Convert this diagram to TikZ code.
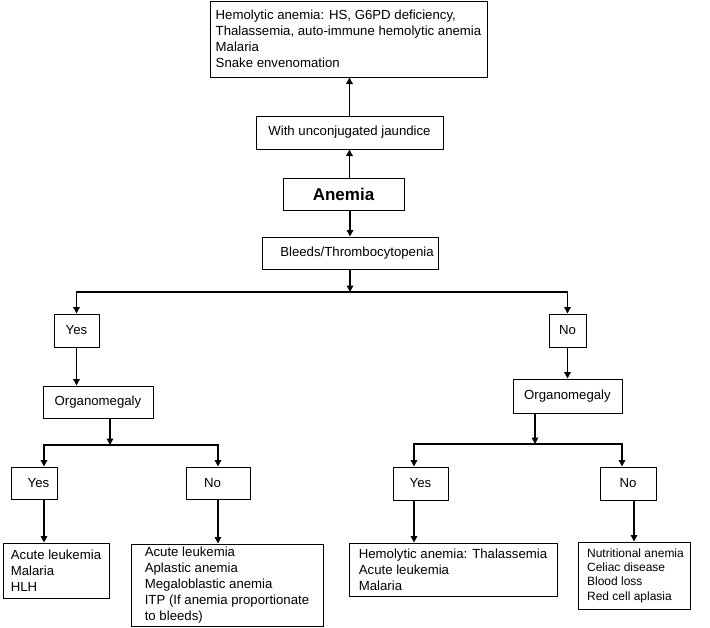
\documentclass[tikz,border=0pt]{standalone}
\usepackage{fontspec}
\setmainfont{Liberation Sans}
\usetikzlibrary{arrows.meta}
\tikzset{
	box/.style={draw, line width=1pt, inner sep=0pt, align=left, font=\fontsize{13.2}{16}\selectfont},
	smallbox/.style={box, font=\fontsize{12}{14.3}\selectfont},
	link/.style={line width=1.4pt, -{Triangle[length=6.5pt,width=6.5pt]}}
}

\begin{document}
\begin{tikzpicture}[x=1pt, y=-1pt]
		%%%%% START %%%%%
		\useasboundingbox (0, 0) rectangle (710, 627);
		
		\node[box, minimum width=277pt, minimum height=76pt] (hemol) at (348.5, 39) {Hemolytic anemia: HS, G6PD deficiency,\\Thalassemia, auto-immune hemolytic anemia\\Malaria\\Snake envenomation};
		\node[box, minimum width=187pt, minimum height=33pt] (jaund) at (349.5, 132.5) {With unconjugated jaundice};
		\node[box, minimum width=121pt, minimum height=32pt, font=\fontsize{17}{20}\selectfont\bfseries] (anemia) at (343.5, 194) {Anemia};
		\node[box, minimum width=176pt, minimum height=32pt] (bleeds) at (350, 253) {\hspace*{14pt}Bleeds/Thrombocytopenia};
		
		\node[box, minimum width=45pt, minimum height=33pt] (yesA) at (76.5, 330.5) {Yes};
		\node[box, minimum width=37pt, minimum height=33pt] (noA) at (567.5, 330.5) {No};
		
		\node[box, minimum width=110pt, minimum height=32pt] (orgA) at (98, 402) {Organomegaly};
		\node[box, minimum width=109pt, minimum height=34pt] (orgB) at (567.5, 396) {Organomegaly};
		
		\node[box, minimum width=46pt, minimum height=32pt] (yesAA) at (34, 483) {\hspace*{9pt}Yes};
		\node[box, minimum width=64pt, minimum height=32pt] (noAA) at (218, 483) {No\hspace*{11pt}};
		\node[box, minimum width=55pt, minimum height=33pt] (yesBA) at (420.5, 483.5) {Yes};
		\node[box, minimum width=56pt, minimum height=33pt] (noBA) at (628, 483.5) {No};
		
		\node[box, minimum width=106pt, minimum height=55pt] (resAA) at (56, 570.5) {Acute leukemia\\Malaria\\HLH};
		\node[box, minimum width=192pt, minimum height=82pt] (resAB) at (227, 585) {Acute leukemia\\Aplastic anemia\\Megaloblastic anemia\\ITP (If anemia proportionate\\to bleeds)};
		\node[box, minimum width=208pt, minimum height=53pt] (resBA) at (453, 569.5) {Hemolytic anemia: Thalassemia\\Acute leukemia\\Malaria};
		\node[smallbox, minimum width=112pt, minimum height=67pt] (resBB) at (634, 575.5) {\hspace*{3pt}Nutritional anemia\\\hspace*{3pt}Celiac disease\\\hspace*{3pt}Blood loss\\\hspace*{3pt}Red cell aplasia};
		
		\coordinate (splitA) at (350, 292);
		\coordinate (splitB) at (110, 445);
		\coordinate (dropAA) at (44, 445);
		\coordinate (splitC) at (535, 444);
		\coordinate (dropBA) at (414, 444);
		\coordinate (dropBB) at (622, 444);
		
		% upward branch
		\draw[link] (jaund.south |- anemia.north) -- (jaund.south);
		\draw[link] (jaund.north) -- (jaund.north |- hemol.south);
		
		% downward branch
		\draw[link] (bleeds.north |- anemia.south) -- (bleeds.north);
		\draw[link] (bleeds.south) -- (splitA);
		\draw[link] (noA.north |- splitA) -- (yesA.north |- splitA) -- (yesA.north);
		\draw[link] (yesA.north |- splitA) -- (noA.north |- splitA) -- (noA.north);
		
		\draw[link] (yesA.south) -- (yesA.south |- orgA.north);
		\draw[link] (splitB |- orgA.south) -- (splitB);
		\draw[link] (noAA.north |- splitB) -- (dropAA) -- (dropAA |- yesAA.north);
		\draw[link] (dropAA) -- (noAA.north |- splitB) -- (noAA.north);
		\draw[link] (dropAA |- yesAA.south) -- (dropAA |- resAA.north);
		\draw[link] (noAA.south) -- (noAA.south |- resAB.north);
		
		\draw[link] (noA.south) -- (noA.south |- orgB.north);
		\draw[link] (splitC |- orgB.south) -- (splitC);
		\draw[link] (dropBB) -- (dropBA) -- (dropBA |- yesBA.north);
		\draw[link] (dropBA) -- (dropBB) -- (dropBB |- noBA.north);
		\draw[link] (dropBA |- yesBA.south) -- (dropBA |- resBA.north);
		\draw[link] (resBB.north |- noBA.south) -- (resBB.north);
		
		%%%%% END %%%%%
\end{tikzpicture}
\end{document}
